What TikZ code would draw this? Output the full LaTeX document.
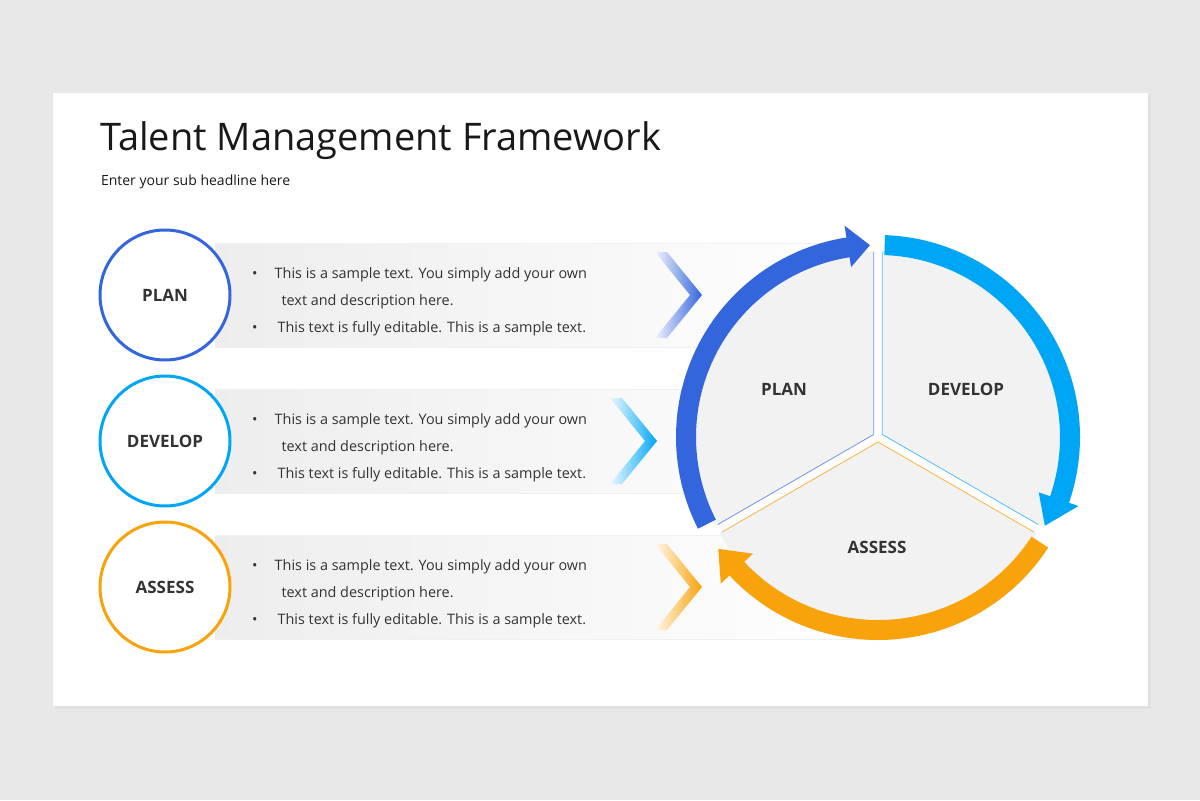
\documentclass[tikz,border=0pt]{standalone}
\usepackage{fontspec}
\setmainfont{Open Sans}
\usetikzlibrary{calc}
\definecolor{bg}{HTML}{E9E8E9}
\definecolor{cplan}{HTML}{3366DD}
\definecolor{cdev}{HTML}{00A6F6}
\definecolor{cass}{HTML}{F8A30C}
\definecolor{sect}{HTML}{F2F2F2}
\definecolor{txt}{HTML}{333333}
\begin{document}
\begin{tikzpicture}[x=0.5pt,y=0.5pt,
  lab/.style={font=\fontsize{8.5}{10}\selectfont\bfseries,text=txt},
  body/.style={font=\fontsize{7.2}{13.5}\selectfont,text=txt,align=left,anchor=north west}]
\fill[bg] (0,0) rectangle (1200,800);
\useasboundingbox (0,0) rectangle (1200,800);
\fill[black!12] (55,91) rectangle (1151,705);
\fill[white] (53,94) rectangle (1148,707);
\node[anchor=west,font=\fontsize{19}{22}\selectfont,text=black!90] (title) at (93,659) {Talent Management Framework};
\node[anchor=west,font=\fontsize{7}{9}\selectfont,text=black!90] (sub) at (94,618) {Enter your sub headline here};
% bands
\foreach \y/\c/\n [count=\i] in {295/cplan/PLAN,441/cdev/DEVELOP,587/cass/ASSESS}{
  \shade[left color=black!7,right color=white,shading angle=90] (215,800-\y+52) rectangle (870,800-\y-52);
  \draw[black!6] (215,800-\y+52) -- (870,800-\y+52) (215,800-\y-52) -- (870,800-\y-52);
  \draw[\c,line width=1.5pt,fill=white] (165,800-\y) circle (65);
  \node[lab] (c\i) at (165,800-\y) {\n};
  \node[body] (t\i) at (245,800-\y+35) {\textbullet\hspace{1.2em}This is a sample text. You simply add your own\\\hspace{2.05em}text and description here.\\\textbullet\hspace{1.4em}This text is fully editable. This is a sample text.};
}
% chevrons
\shade[left color=cplan!8,right color=cplan] (655,548) -- (667,548) -- (702,505) -- (667,462) -- (655,462) -- (690,505) -- cycle;
\shade[left color=cdev!8,right color=cdev] (610,402) -- (622,402) -- (657,359) -- (622,316) -- (610,316) -- (645,359) -- cycle;
\shade[left color=cass!8,right color=cass] (655,256) -- (667,256) -- (702,213) -- (667,170) -- (655,170) -- (690,213) -- cycle;
% sectors
\coordinate (C) at (878,363);
\fill[sect] ($(C)+(150:5)$) -- ++(90:183) arc (90:210:183) -- cycle;
\fill[sect] ($(C)+(30:5)$) -- ++(90:183) arc (90:-30:183) -- cycle;
\fill[sect] ($(C)+(270:5)$) -- ++(-30:183) arc (-30:-150:183) -- cycle;
\draw[cplan!70,line width=0.4pt] ($(C)+(150:5)+(90:183)$) -- ($(C)+(150:5)$) -- ++(210:180);
\draw[cdev!70,line width=0.4pt] ($(C)+(30:5)+(90:183)$) -- ($(C)+(30:5)$) -- ++(-30:180);
\draw[cass!80,line width=0.4pt] ($(C)+(270:5)+(-30:180)$) -- ($(C)+(270:5)$) -- ++(210:180);
\node[lab] (p) at (784,411) {PLAN};
\node[lab] (d) at (966,411) {DEVELOP};
\node[lab] (a) at (877,253) {ASSESS};
% arrows
\fill[cplan] ($(C)+(207:182)$) arc (207:99:182) -- ($(C)+(99:172)$) -- ($(C)+(92.4:192)$) -- ($(C)+(99:214)$) -- ($(C)+(99:202)$) arc (99:207:202) -- cycle;
\fill[cdev] ($(C)+(88:182)$) arc (88:-19:182) -- ($(C)+(-19:170)$) -- ($(C)+(-28:189)$) -- ($(C)+(-19:212)$) -- ($(C)+(-19:202)$) arc (-19:88:202) -- cycle;
\fill[cass] ($(C)+(-33:183)$) arc (-33:-137:183) -- ($(C)+(-137:171)$) -- ($(C)+(-145:195)$) -- ($(C)+(-137:215)$) -- ($(C)+(-137:203)$) arc (-137:-33:203) -- cycle;
\end{tikzpicture}
\end{document}
